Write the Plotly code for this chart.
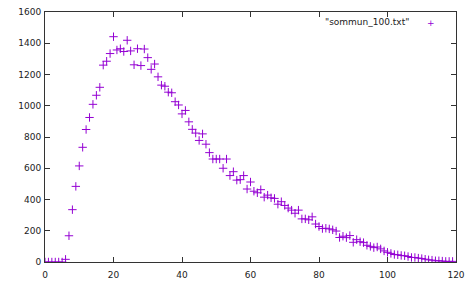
import plotly.graph_objects as go

x_vals = list(range(0, 120))
counts = [
    0, 0, 0, 0, 0, 0, 17, 168, 335, 484, 615, 734, 848, 925, 1009, 1067,
    1118, 1260, 1285, 1334, 1442, 1357, 1365, 1347, 1419, 1351, 1262, 1365, 1257, 1363,
    1308, 1233, 1267, 1185, 1132, 1125, 1087, 1083, 1026, 1005, 948, 970, 897, 849,
    825, 778, 820, 754, 700, 659, 659, 659, 600, 659, 553, 578, 524, 527,
    553, 467, 512, 453, 443, 463, 415, 428, 411, 407, 370, 386, 362, 345,
    332, 312, 332, 276, 276, 270, 289, 243, 227, 214, 216, 212, 206, 198,
    157, 165, 156, 169, 126, 143, 130, 124, 107, 100, 92, 96, 84, 71,
    62, 55, 48, 46, 42, 40, 35, 29, 29, 25, 22, 18, 14, 12, 8, 8,
    6, 4, 4, 4,
]
x_ticks = [0, 20, 40, 60, 80, 100, 120]
y_ticks = [0, 200, 400, 600, 800, 1000, 1200, 1400, 1600]
series_name = '"sommun_100.txt"'

color = "#9400D3"
font = dict(family="DejaVu Sans", size=9, color="#222222")

W, H = 474, 284
ML, MR, MT, MB = 45, 18, 12, 22

fig = go.Figure()
fig.add_trace(go.Scatter(
    x=x_vals, y=counts, mode="markers", name=series_name,
    marker=dict(symbol="cross-thin", size=6, line=dict(color=color, width=1), color=color),
    showlegend=False,
))

axis_common = dict(
    showline=True, linecolor="#333333", linewidth=1, mirror="allticks",
    ticks="inside", ticklen=5, tickwidth=1, tickcolor="#333333",
    showgrid=False, zeroline=False, tickfont=font, automargin=False,
)
fig.update_xaxes(range=[0, 120], tickvals=x_ticks, ticklabelstandoff=4, **axis_common)
fig.update_yaxes(range=[0, 1600], tickvals=y_ticks, ticklabelstandoff=1, **axis_common)

fig.update_layout(
    width=W, height=H,
    margin=dict(l=ML, r=MR, t=MT, b=MB),
    paper_bgcolor="white", plot_bgcolor="white",
    font=font,
)
pw = W - ML - MR
ph = H - MT - MB
fig.add_annotation(x=(411 - ML) / pw, y=(H - MB - 22) / ph, xref="paper", yref="paper",
                   text=series_name, showarrow=False, font=font,
                   xanchor="right", yanchor="middle")
fig.add_annotation(x=(431 - ML) / pw, y=(H - MB - 23) / ph, xref="paper", yref="paper",
                   text="+", showarrow=False, font=dict(family="DejaVu Sans", size=9, color=color),
                   xanchor="center", yanchor="middle")
fig.write_html("out.html")
